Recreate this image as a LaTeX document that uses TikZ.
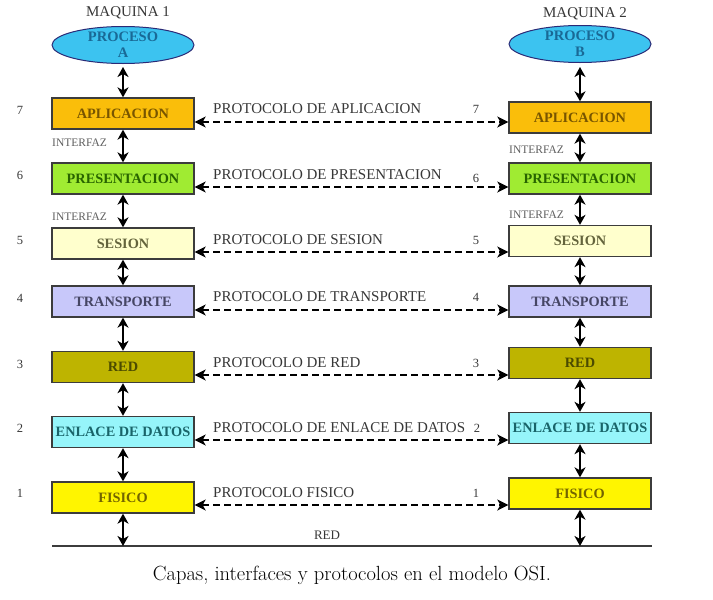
\documentclass[tikz,border=0pt]{standalone}
\usepackage{fontspec}
\setmainfont{Liberation Serif}
\newfontfamily\lmfont{Latin Modern Roman}
\usetikzlibrary{arrows.meta,shapes.geometric}
\definecolor{cproc}{RGB}{60,195,240}
\definecolor{cproct}{RGB}{25,105,150}
\definecolor{capl}{RGB}{250,190,10}
\definecolor{capltx}{RGB}{120,85,0}
\definecolor{cpre}{RGB}{160,235,50}
\definecolor{cpretx}{RGB}{40,100,0}
\definecolor{cses}{RGB}{255,255,205}
\definecolor{csestx}{RGB}{100,100,60}
\definecolor{ctra}{RGB}{200,200,250}
\definecolor{ctratx}{RGB}{70,70,100}
\definecolor{cred}{RGB}{190,180,0}
\definecolor{credtx}{RGB}{75,75,0}
\definecolor{cenl}{RGB}{150,245,250}
\definecolor{cenltx}{RGB}{25,100,105}
\definecolor{cfis}{RGB}{255,245,0}
\definecolor{cfistx}{RGB}{115,100,0}
\definecolor{ctxt}{RGB}{55,55,55}
\definecolor{cborder}{RGB}{60,60,60}
\tikzset{
  layerbox/.style={draw=cborder, line width=1.3pt, minimum width=142pt, minimum height=31pt, inner sep=0pt, font=\fontsize{14.3}{15}\selectfont\bfseries},
  procell/.style={ellipse, draw=cborder!70!blue, line width=1pt, fill=cproc, minimum width=142pt, minimum height=37pt, inner sep=0pt, text=cproct, font=\fontsize{14.5}{16}\selectfont\bfseries, align=center},
  vlink/.style={{Stealth[length=10pt,width=11pt,inset=3pt]}-{Stealth[length=10pt,width=11pt,inset=3pt]}, line width=2.1pt, black},
  plink/.style={{Stealth[length=11pt,width=11pt,inset=3pt]}-{Stealth[length=11pt,width=11pt,inset=3pt]}, line width=2.2pt, black, dash pattern=on 7pt off 4pt},
  lbl/.style={font=\fontsize{15}{15}\selectfont, text=ctxt, inner sep=0pt},
  numlbl/.style={font=\fontsize{12.5}{13}\selectfont, text=ctxt, inner sep=0pt},
  iflbl/.style={font=\fontsize{11.5}{12}\selectfont, text=ctxt!80, inner sep=0pt, anchor=west},
}
\begin{document}
\begin{tikzpicture}[x=1pt,y=-1pt]
\useasboundingbox (0,0) rectangle (713,600);
% machine titles
\node[lbl] (m1) at (128,13) {MAQUINA 1};
\node[lbl] (m2) at (585,14) {MAQUINA 2};
% processes
\node[procell] (pa) at (123,45) {PROCESO\\A};
\node[procell] (pb) at (580,44) {PROCESO\\B};
% left stack
\node[layerbox, fill=capl, text=capltx] (l7) at (123,113.5) {APLICACION};
\node[layerbox, fill=cpre, text=cpretx] (l6) at (123,178.5) {PRESENTACION};
\node[layerbox, fill=cses, text=csestx] (l5) at (123,243.5) {SESION};
\node[layerbox, fill=ctra, text=ctratx] (l4) at (123,301.5) {TRANSPORTE};
\node[layerbox, fill=cred, text=credtx] (l3) at (123,367) {RED};
\node[layerbox, fill=cenl, text=cenltx] (l2) at (123,432) {ENLACE DE DATOS};
\node[layerbox, fill=cfis, text=cfistx] (l1) at (123,497.5) {FISICO};
% right stack
\node[layerbox, fill=capl, text=capltx] (r7) at (580,117.5) {APLICACION};
\node[layerbox, fill=cpre, text=cpretx] (r6) at (580,178.5) {PRESENTACION};
\node[layerbox, fill=cses, text=csestx] (r5) at (580,241) {SESION};
\node[layerbox, fill=ctra, text=ctratx] (r4) at (580,301.5) {TRANSPORTE};
\node[layerbox, fill=cred, text=credtx] (r3) at (580,363) {RED};
\node[layerbox, fill=cenl, text=cenltx] (r2) at (580,428) {ENLACE DE DATOS};
\node[layerbox, fill=cfis, text=cfistx] (r1) at (580,493.5) {FISICO};
% network line
\coordinate (netL) at (52,546);
\coordinate (netR) at (652,546);
\draw[line width=1.2pt, cborder] (netL) -- (netR);
\coordinate (netA) at (123,546);
\coordinate (netB) at (580,546);
\node[lbl, font=\fontsize{13}{13}\selectfont] (redlbl) at (327,535) {RED};
% layer numbers left
\node[numlbl] (n7) at (20,110) {7};
\node[numlbl] (n6) at (20,175) {6};
\node[numlbl] (n5) at (20,240) {5};
\node[numlbl] (n4) at (20,298) {4};
\node[numlbl] (n3) at (20,364) {3};
\node[numlbl] (n2) at (20,428) {2};
\node[numlbl] (n1) at (20,493) {1};
% layer numbers right
\node[numlbl] (k7) at (476,109) {7};
\node[numlbl] (k6) at (476,178) {6};
\node[numlbl] (k5) at (476,240) {5};
\node[numlbl] (k4) at (476,297) {4};
\node[numlbl] (k3) at (476,363) {3};
\node[numlbl] (k2) at (477,428) {2};
\node[numlbl] (k1) at (476,493) {1};
% protocol labels
\node[lbl, anchor=west] (p7) at (213,109) {PROTOCOLO DE APLICACION};
\node[lbl, anchor=west] (p6) at (213,175) {PROTOCOLO DE PRESENTACION};
\node[lbl, anchor=west] (p5) at (213,240) {PROTOCOLO DE SESION};
\node[lbl, anchor=west] (p4) at (213,297) {PROTOCOLO DE TRANSPORTE};
\node[lbl, anchor=west] (p3) at (213,363) {PROTOCOLO DE RED};
\node[lbl, anchor=west] (p2) at (213,428) {PROTOCOLO DE ENLACE DE DATOS};
\node[lbl, anchor=west] (p1) at (213,493) {PROTOCOLO FISICO};
% interfaz labels
\node[iflbl] (i1) at (52,143) {INTERFAZ};
\node[iflbl] (i2) at (52,217) {INTERFAZ};
\node[iflbl] (i3) at (509,150) {INTERFAZ};
\node[iflbl] (i4) at (509,215) {INTERFAZ};
% vertical links left
\draw[vlink, shorten <=3pt] (pa.south) -- (l7.north);
\draw[vlink] (l7.south) -- (l6.north);
\draw[vlink] (l6.south) -- (l5.north);
\draw[vlink] (l5.south) -- (l4.north);
\draw[vlink] (l4.south) -- (l3.north);
\draw[vlink] (l3.south) -- (l2.north);
\draw[vlink] (l2.south) -- (l1.north);
\draw[vlink] (l1.south) -- (netA);
% vertical links right
\draw[vlink, shorten <=4pt] (pb.south) -- (r7.north);
\draw[vlink] (r7.south) -- (r6.north);
\draw[vlink] (r6.south) -- (r5.north);
\draw[vlink] (r5.south) -- (r4.north);
\draw[vlink] (r4.south) -- (r3.north);
\draw[vlink] (r3.south) -- (r2.north);
\draw[vlink] (r2.south) -- (r1.north);
\draw[vlink] (r1.south) -- (netB);
% protocol links
\foreach \i/\d in {7/8.5,6/8.5,5/8.5,4/8.5,3/8,2/8,1/7.5}{
  \coordinate (a\i) at ([yshift=-\d pt]l\i.east);
  \draw[plink] (a\i) -- (a\i -| r\i.west);
}
% caption
\node[font=\lmfont\fontsize{20.5}{21}\selectfont, inner sep=0pt] (cap) at (352,575) {Capas, interfaces y protocolos en el modelo OSI.};
\end{tikzpicture}
\end{document}
